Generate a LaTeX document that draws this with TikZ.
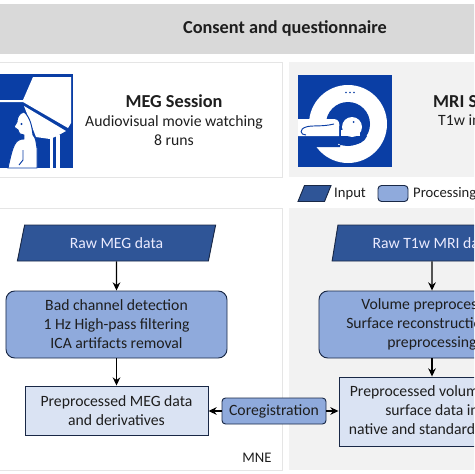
\documentclass[tikz,border=0pt]{standalone}
\usepackage{fontspec}
\setmainfont{Carlito}
\usepackage{xcolor}
\usetikzlibrary{arrows.meta,shapes.geometric}
\definecolor{inkc}{RGB}{30,30,30}
\definecolor{iconc}{RGB}{10,62,165}
\definecolor{inputc}{RGB}{47,85,151}
\definecolor{procc}{RGB}{143,170,220}
\definecolor{derivc}{RGB}{218,227,243}
\definecolor{edgec}{RGB}{25,40,70}
\tikzset{
  txt/.style={font=\fontsize{13.4}{16.3}\selectfont,text=inkc,align=center},
  small/.style={font=\fontsize{12.5}{16}\selectfont,text=inkc},
  head/.style={font=\fontsize{15.6}{18}\selectfont\bfseries,text=inkc},
  inputbox/.style={trapezium,trapezium stretches=true,trapezium left angle=71.5,trapezium right angle=108.5,draw=edgec,fill=inputc,line width=0.8pt,inner sep=0pt,font=\fontsize{13.4}{16}\selectfont,text=white!92!blue},
  procbox/.style={rectangle,rounded corners=7.5pt,draw=edgec,fill=procc,line width=0.8pt,txt},
  derivbox/.style={rectangle,draw=edgec,fill=derivc,line width=0.8pt,txt},
  flow/.style={-{Stealth[length=7pt,width=6.5pt]},line width=1pt,black}
}
\begin{document}
\begin{tikzpicture}[x=0.03cm,y=-0.03cm]
  \useasboundingbox (0,0) rectangle (474,474);
  \clip (0,0) rectangle (474,474);
  % panels
  \fill[gray!30] (-2,4) rectangle (476,54);
  \node[head] (consent) at (285,29) {Consent and questionnaire};
  \draw[gray!20,thick] (-2,62) rectangle (282.5,177);
  \fill[gray!10] (289,62) rectangle (476,177);
  \draw[gray!20,thick] (-2,208) rectangle (282.5,470);
  \fill[gray!10] (289,208) rectangle (476,470);
  % MEG icon
  \fill[iconc] (-1,74) rectangle (73,167.5);
  \fill[white] (33,77) -- (71,77) -- (71,123) -- (68,128) -- (23,102) -- (-1,102) -- (-1,100) -- (23,100) -- cycle;
  \fill[white] (24,106) -- (66,131) -- (57,136) -- (50,139) -- (36,137) -- cycle;
  \fill[white] (50,136) rectangle (52.5,167.5);
  \fill[white] (56,135) rectangle (59.5,167.5);
  \filldraw[fill=white,draw=iconc,thick] (24,112) .. controls (19,113) and (17,118) .. (17,122) -- (14,127) -- (18,130) .. controls (19,134) and (21,135) .. (24,135) -- (24,139) .. controls (15,139) and (13,145) .. (8,168) -- (37,168) -- (37,148) .. controls (36,142) and (36,138) .. (33,135) .. controls (32,128) and (31,118) .. (24,112) -- cycle;
  \fill[iconc] (21.5,124) circle (1.2);
  \draw[iconc,thick] (23,150) -- (23,160) -- (19,165);
  % MRI icon
  \fill[iconc] (298,75) rectangle (392,167);
  \fill[white] (348,124) circle (39);
  \fill[iconc] (348,124) circle (22);
  \foreach \x in {346,350,354} \fill[iconc] (\x,92.5) circle (0.8);
  \fill[iconc] (298,136) rectangle (340,147) (338,136) -- (367,136) .. controls (365,142) and (358,145) .. (350,145) -- (338,145) -- cycle;
  \fill[white] (298,119) -- (334,119) .. controls (339,119) and (340,124) .. (339,128) -- (339,136) -- (298,136) -- cycle;
  \fill[white] (352,127) circle (10);
  \fill[white] (341,130) rectangle (360,135.5);
  \fill[iconc] (353.5,122) circle (1);
  \draw[iconc,thick] (334,124) .. controls (322,127) and (312,125) .. (306,127) .. controls (299,129) and (300,135) .. (306,135);
  % session titles
  \node[head] (megtitle) at (174,101) {MEG Session};
  \node[txt] (megtext) at (174,130.5) {Audiovisual movie watching\\[0.3pt]8 runs};
  \node[head,anchor=west,inner sep=0pt] (mrititle) at (433,101) {MRI Session};
  \node[txt,anchor=west,inner sep=0pt] (mritext) at (438,121) {T1w images};
  % legend
  \node[inputbox,minimum width=0.99cm,minimum height=0.48cm,trapezium left angle=72,trapezium right angle=108] (leginput) at (314.5,193.5) {\hspace*{1pt}\rule{0pt}{1pt}};
  \node[small,anchor=west,inner sep=0pt] (leginputtxt) at (334,193.5) {Input};
  \node[procbox,rounded corners=3pt,minimum width=0.9cm,minimum height=0.48cm,inner sep=0pt] (legproc) at (393,193.5) {};
  \node[small,anchor=west,inner sep=0pt] (legproctxt) at (413,193.5) {Processing};
  % MEG column
  \node[inputbox,minimum width=5.97cm,minimum height=1.08cm] (rawmeg) at (116.5,243) {Raw MEG data};
  \node[procbox,minimum width=6.63cm,minimum height=2.01cm] (procmeg) at (116.5,324.5) {Bad channel detection\\1 Hz High-pass filtering\\ICA artifacts removal};
  \node[derivbox,minimum width=5.49cm,minimum height=1.47cm] (premeg) at (116.5,410.5) {Preprocessed MEG data\\and derivatives};
  \node[small] (mne) at (257,458) {MNE};
  % MRI column
  \node[inputbox,minimum width=6cm,minimum height=1.08cm] (rawmri) at (432,243) {Raw T1w MRI data};
  \node[procbox,minimum width=6.78cm,minimum height=2.01cm] (procmri) at (432,324.5) {Volume preprocessing\\Surface reconstruction and\\preprocessing};
  \node[derivbox,minimum width=5.58cm,minimum height=2.07cm] (premri) at (432,411.5) {Preprocessed volume and\\surface data in\\native and standard space};
  \node[procbox,rounded corners=3pt,minimum width=3.12cm,minimum height=0.78cm,inner sep=0pt] (coreg) at (274,411) {Coregistration};
  % connectors
  \draw[flow] (rawmeg.south) -- (procmeg.north);
  \draw[flow] (procmeg.south) -- (premeg.north);
  \draw[flow] (rawmri.south) -- (procmri.north);
  \draw[flow] (procmri.south) -- (premri.north);
  \draw[flow] (coreg.west) -- (premeg.east |- coreg.west);
  \draw[flow] (coreg.east) -- (premri.west |- coreg.east);
\end{tikzpicture}
\end{document}
